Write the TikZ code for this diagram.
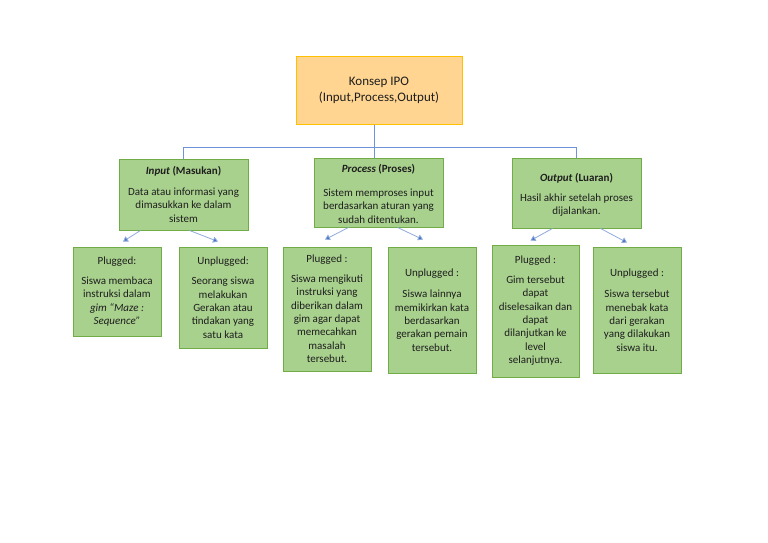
\documentclass[tikz,border=0pt]{standalone}
\usepackage{fontspec}
\setmainfont{Carlito}
\usetikzlibrary{arrows.meta,calc}
\definecolor{gfill}{HTML}{A9D18E}
\definecolor{gline}{HTML}{70AD47}
\definecolor{ofill}{HTML}{FFD591}
\definecolor{oline}{HTML}{FFC000}
\definecolor{tline}{HTML}{6F93D8}
\definecolor{aline}{HTML}{8FAADC}
\definecolor{tipc}{HTML}{4472C4}
\definecolor{ink}{HTML}{1E1E1E}
\tikzset{
  gbox/.style={draw=gline, fill=gfill, line width=0.9pt, align=center, inner sep=2pt,
    text=ink, font=\fontsize{11}{13.4}\selectfont},
  obox/.style={draw=oline, fill=ofill, line width=1pt, align=center, text=ink,
    font=\fontsize{13}{15.5}\selectfont},
  tree/.style={draw=tline, line width=0.7pt},
  arr/.style={draw=aline, line width=0.8pt, -{Triangle[width=6pt,length=5pt,fill=tipc]}},
}
\begin{document}
\begin{tikzpicture}[x=1pt,y=-1pt]
\useasboundingbox (0,0) rectangle (768,543);
\fill[white] (0,0) rectangle (768,543);

\node[obox, minimum width=166, minimum height=67] (top) at (379,90.5)
  {Konsep IPO\\(Input,Process,Output)};

\node[gbox, minimum width=129, minimum height=71] (inp) at (183.5,194.5)
  {\textbf{\textit{Input} (Masukan)}\\[7pt]Data atau informasi yang\\dimasukkan ke dalam\\sistem};
\node[gbox, minimum width=129, minimum height=69] (proc) at (378.5,192.5)
  {\rule{0pt}{11pt}\textbf{\textit{Process} (Proses)}\\[10pt]Sistem memproses input\\berdasarkan aturan yang\\sudah ditentukan.};
\node[gbox, minimum width=129, minimum height=70] (outp) at (576.5,193)
  {\rule{0pt}{12pt}\textbf{\textit{Output} (Luaran)}\\[6pt]Hasil akhir setelah proses\\dijalankan.};

\node[gbox, minimum width=88, minimum height=89] (c1) at (117,291.5)
  {Plugged:\\[7pt]Siswa membaca\\instruksi dalam\\\textit{gim ``Maze :}\\\textit{Sequence''}};
\node[gbox, minimum width=88, minimum height=101] (c2) at (223,297.5)
  {Unplugged:\\[7pt]Seorang siswa\\melakukan\\Gerakan atau\\tindakan yang\\satu kata};
\node[gbox, minimum width=88, minimum height=124] (c3) at (327,309)
  {Plugged :\\[6pt]Siswa mengikuti\\instruksi yang\\diberikan dalam\\gim agar dapat\\memecahkan\\masalah\\tersebut.};
\node[gbox, minimum width=88, minimum height=126] (c4) at (432,310)
  {Unplugged :\\[8pt]Siswa lainnya\\memikirkan kata\\berdasarkan\\gerakan pemain\\tersebut.};
\node[gbox, minimum width=87, minimum height=132] (c5) at (535.5,311)
  {Plugged :\\[6pt]Gim tersebut\\dapat\\diselesaikan dan\\dapat\\dilanjutkan ke\\level\\selanjutnya.};
\node[gbox, minimum width=88, minimum height=126] (c6) at (637,310)
  {Unplugged :\\[8pt]Siswa tersebut\\menebak kata\\dari gerakan\\yang dilakukan\\siswa itu.};

% tree connectors
\coordinate (j) at (374,147);
\draw[tree] (j |- top.south) -- (j |- proc.north);
\draw[tree] (inp.north) -- (inp.north |- j) -- (outp.north |- j) -- (outp.north);

% arrows
\draw[arr] ($(inp.south)+(-43,0)$) -- ($(c1.north)+(6,-5)$);
\draw[arr] ($(inp.south)+(6,0)$) -- ($(c2.north)+(-5,-5)$);
\draw[arr] ($(proc.south)+(-30,0)$) -- ($(c3.north)+(-2,-7)$);
\draw[arr] ($(proc.south)+(19,0)$) -- ($(c4.north)+(-9,-7)$);
\draw[arr] ($(outp.south)+(-24,0)$) -- ($(c5.north)+(-5,-4)$);
\draw[arr] ($(outp.south)+(24,0)$) -- ($(c6.north)+(-10,-4)$);
\end{tikzpicture}
\end{document}
